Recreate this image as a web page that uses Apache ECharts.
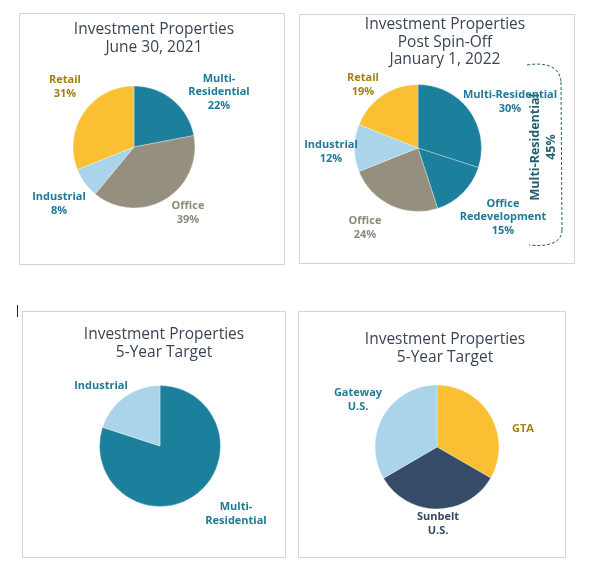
<!DOCTYPE html>
<html>
<head>
<meta charset="utf-8">
<script src="https://cdn.jsdelivr.net/npm/echarts@6/dist/echarts.min.js"></script>
<style>
  html, body { margin: 0; padding: 0; background: #fff; }
  #chart { width: 600px; height: 567px; }
</style>
</head>
<body>
<div id="chart"></div>
<script>
// June 30, 2021
const cats2021 = ['Multi-\nResidential', 'Office', 'Industrial', 'Retail']
const vals2021 = [22, 39, 8, 31]
// Post spin-off, January 1, 2022
const catsSpin = ['Multi-Residential', 'Office\nRedevelopment', 'Office', 'Industrial', 'Retail']
const valsSpin = [30, 15, 24, 12, 19]
const multiResTotal = 45
// 5-year target, by property type
const catsType = ['Multi-\nResidential', 'Industrial']
const valsType = [80, 20]
// 5-year target, by region
const catsRegion = ['GTA', 'Sunbelt\nU.S.', 'Gateway\nU.S.']
const valsRegion = [33.3, 33.3, 33.4]

const titles = [
  'Investment Properties\nJune 30, 2021',
  'Investment Properties\nPost Spin-Off\nJanuary 1, 2022',
  'Investment Properties\n5-Year Target',
  'Investment Properties\n5-Year Target'
]

// colours
const TEAL = '#1c7f9b'
const TAUPE = '#958f80'
const LIGHT = '#a9d4ea'
const YELLOW = '#fbbf34'
const NAVY = '#364b68'
const TEAL_TXT = '#1f7a96'
const TAUPE_TXT = '#8e897b'
const GOLD_TXT = '#a3800f'
const TITLE_TXT = '#3a4553'
const FONT = '"Open Sans", sans-serif'

const chart = echarts.init(document.getElementById('chart'))

// pie series with labels placed next to the slices
const buildPie = (cats, vals, cfg) => ({
  type: 'pie',
  center: cfg.center,
  radius: cfg.radius,
  startAngle: 90,
  clockwise: true,
  silent: true,
  avoidLabelOverlap: false,
  itemStyle: { borderColor: 'rgba(255,255,255,0.45)', borderWidth: 0.7 },
  label: {
    show: true,
    position: 'outside',
    formatter: cfg.pct ? '{b}\n{c}%' : '{b}',
    fontFamily: FONT,
    fontSize: 11,
    fontWeight: 'bold',
    lineHeight: 13.5,
    align: 'center'
  },
  labelLine: { show: false },
  labelLayout: (params) => {
    const p = cfg.labelPos[params.dataIndex]
    return { x: p[0], y: p[1], align: 'center', verticalAlign: 'middle' }
  },
  data: cats.map((name, i) => ({
    name: name,
    value: vals[i],
    itemStyle: { color: cfg.colors[i] },
    label: { color: cfg.labelColors[i] }
  }))
})

const panelBox = (x1, y1, x2, y2) => ({
  type: 'rect',
  shape: { x: x1 + 0.5, y: y1 + 0.5, width: x2 - x1, height: y2 - y1 },
  style: { fill: '#fff', stroke: '#d3d3d3', lineWidth: 1 },
  z: -10
})

const titleText = (text, x, y) => ({
  type: 'text',
  x: x,
  y: y,
  style: {
    text: text,
    fill: TITLE_TXT,
    font: '15.5px ' + FONT,
    lineHeight: 17.5,
    align: 'center',
    verticalAlign: 'top'
  }
})

const dash = { stroke: '#2b5e6c', lineWidth: 1, lineDash: [3, 2], fill: null }

const option = {
  backgroundColor: '#fff',
  animation: false,
  graphic: [
    panelBox(19, 13, 284, 264),
    panelBox(299, 14, 574, 263),
    panelBox(22, 311, 285, 557),
    panelBox(298, 311, 565, 557),
    titleText(titles[0], 154, 21),
    titleText(titles[1], 445, 16),
    titleText(titles[2], 164, 326),
    titleText(titles[3], 445, 331),
    // brace grouping the two multi-residential slices
    { type: 'bezierCurve', shape: { x1: 527, y1: 65, cpx1: 545, cpy1: 62, cpx2: 560, cpy2: 66, x2: 561, y2: 82 }, style: dash },
    { type: 'line', shape: { x1: 561, y1: 82, x2: 562, y2: 230 }, style: dash },
    { type: 'bezierCurve', shape: { x1: 562, y1: 230, cpx1: 562, cpy1: 243, cpx2: 548, cpy2: 247, x2: 529, y2: 245 }, style: dash },
    {
      type: 'text',
      x: 543.5,
      y: 147,
      rotation: Math.PI / 2,
      style: {
        text: 'Multi-Residential\n' + multiResTotal + '%',
        fill: '#23606f',
        font: 'bold 12.5px ' + FONT,
        lineHeight: 16,
        align: 'center',
        verticalAlign: 'middle'
      }
    },
    // stray text cursor
    { type: 'line', shape: { x1: 17.5, y1: 305, x2: 17.5, y2: 317 }, style: { stroke: '#222', lineWidth: 1 } }
  ],
  series: [
    buildPie(cats2021, vals2021, {
      center: [134, 147], radius: 61, pct: true,
      colors: [TEAL, TAUPE, LIGHT, YELLOW],
      labelColors: [TEAL_TXT, TAUPE_TXT, TEAL_TXT, GOLD_TXT],
      labelPos: [[219, 92], [188, 213], [59, 204], [65, 87]]
    }),
    buildPie(catsSpin, valsSpin, {
      center: [418, 148], radius: 63.5, pct: true,
      colors: [TEAL, TEAL, TAUPE, LIGHT, YELLOW],
      labelColors: [TEAL_TXT, TEAL_TXT, TAUPE_TXT, TEAL_TXT, GOLD_TXT],
      labelPos: [[510, 102], [503, 217], [365, 228], [331, 152], [363, 85]]
    }),
    buildPie(catsType, valsType, {
      center: [160, 446], radius: 60.5, pct: false,
      colors: [TEAL, LIGHT],
      labelColors: [TEAL_TXT, TEAL_TXT],
      labelPos: [[236, 514], [101, 386]]
    }),
    buildPie(catsRegion, valsRegion, {
      center: [437, 447], radius: 62, pct: false,
      colors: [YELLOW, NAVY, LIGHT],
      labelColors: [GOLD_TXT, NAVY, TEAL_TXT],
      labelPos: [[523, 429], [438, 524], [358, 400]]
    })
  ]
}

chart.setOption(option)
</script>
</body>
</html>
